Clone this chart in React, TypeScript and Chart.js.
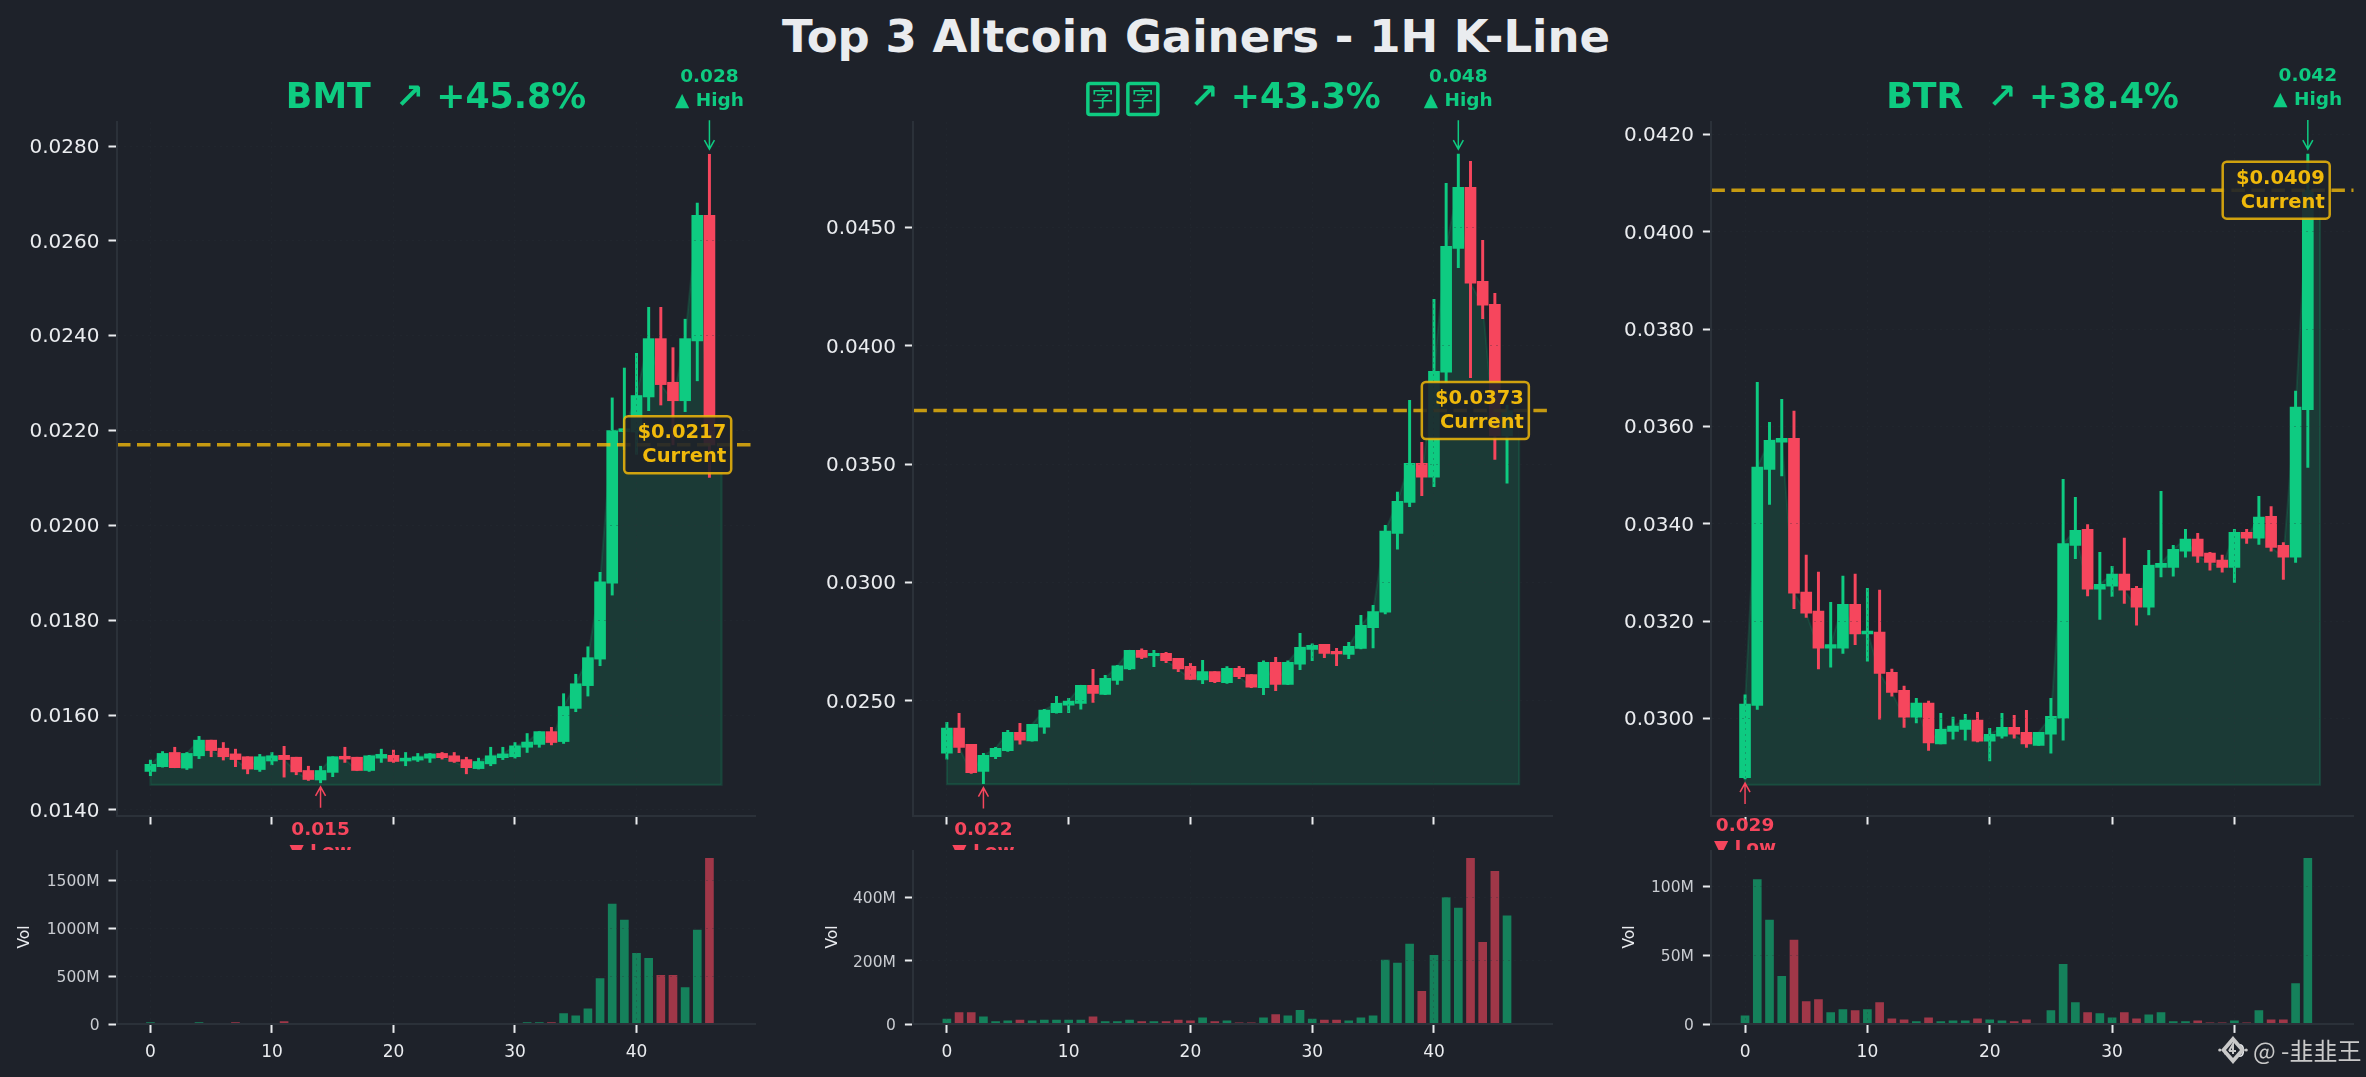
import React, { useEffect, useRef } from "react";
import { Chart, registerables } from "chart.js";

Chart.register(...registerables);

const xTicks = [0, 10, 20, 30, 40];

const bmtOpen = [.01481,.01491,.01521,.01488,.01514,.01547,.01530,.01518,.01512,.01485,.01503,.01515,.01511,.01483,.01463,.01479,.01513,.01511,.01483,.01509,.01515,.01503,.01505,.01509,.01519,.01514,.01506,.01487,.01497,.01510,.01512,.01532,.01538,.01565,.01544,.01614,.01662,.01718,.01878,.02198,.02197,.02271,.02394,.02302,.02263,.02389,.02654];
const bmtClose = [.01496,.01519,.01489,.01519,.01547,.01525,.01512,.01506,.01486,.01512,.01514,.01506,.01480,.01464,.01483,.01512,.01507,.01483,.01514,.01517,.01502,.01509,.01512,.01518,.01510,.01502,.01489,.01502,.01514,.01518,.01535,.01543,.01565,.01542,.01618,.01666,.01721,.01881,.02200,.02204,.02274,.02394,.02297,.02263,.02394,.02654,.02170];
const bmtHigh = [.01505,.01523,.01532,.01521,.01555,.01547,.01542,.01528,.01512,.01517,.01521,.01534,.01511,.01492,.01492,.01512,.01532,.01511,.01515,.01528,.01526,.01521,.01519,.01519,.01521,.01521,.01511,.01509,.01532,.01532,.01542,.01561,.01565,.01574,.01645,.01686,.01744,.01901,.02269,.02332,.02363,.02460,.02460,.02375,.02435,.02680,.02783];
const bmtLow = [.01472,.01490,.01489,.01485,.01508,.01512,.01505,.01491,.01476,.01481,.01495,.01469,.01474,.01462,.01457,.01470,.01500,.01483,.01481,.01500,.01500,.01493,.01502,.01500,.01507,.01500,.01476,.01486,.01493,.01506,.01509,.01521,.01532,.01537,.01540,.01607,.01640,.01704,.01853,.02160,.02150,.02242,.02254,.02170,.02240,.02305,.02101];
const bmtVol = [18,5,6,5,18,4,5,18,4,3,5,29,4,3,5,6,4,3,4,3,3,2,3,2,3,2,3,2,4,3,6,18,18,18,112,90,162,479,1256,1087,742,688,511,511,385,983,1732];
const bmtPriceTicks = [.014,.016,.018,.02,.022,.024,.026,.028];
const bmtVolTicks = [0,500,1000,1500];

const tokOpen = [.02279,.02385,.02317,.02202,.02265,.02290,.02368,.02331,.02389,.02451,.02482,.02490,.02566,.02528,.02587,.02635,.02714,.02691,.02701,.02680,.02646,.02589,.02624,.02577,.02638,.02611,.02556,.02663,.02570,.02655,.02718,.02739,.02708,.02697,.02722,.02810,.02875,.03208,.03339,.03504,.03445,.03889,.04412,.04670,.04273,.04176,.03620];
const tokClose = [.02385,.02304,.02197,.02270,.02300,.02368,.02334,.02401,.02462,.02490,.02499,.02566,.02532,.02596,.02648,.02714,.02684,.02701,.02670,.02635,.02591,.02624,.02582,.02638,.02603,.02558,.02663,.02570,.02663,.02727,.02735,.02701,.02699,.02731,.02820,.02878,.03218,.03343,.03504,.03445,.03893,.04421,.04670,.04265,.04172,.03620,.03727];
const tokHigh = [.02410,.02448,.02317,.02279,.02304,.02376,.02406,.02401,.02465,.02520,.02511,.02566,.02634,.02608,.02651,.02714,.02720,.02714,.02705,.02680,.02659,.02672,.02624,.02645,.02646,.02611,.02670,.02684,.02670,.02786,.02741,.02739,.02722,.02748,.02862,.02904,.03242,.03382,.03770,.03593,.04197,.04687,.04810,.04780,.04446,.04222,.03750];
const tokLow = [.02254,.02282,.02194,.02151,.02256,.02287,.02317,.02330,.02363,.02448,.02451,.02465,.02494,.02527,.02570,.02632,.02679,.02645,.02662,.02624,.02590,.02573,.02577,.02574,.02594,.02556,.02527,.02544,.02569,.02632,.02670,.02683,.02649,.02679,.02720,.02724,.02868,.03141,.03321,.03367,.03405,.03842,.04331,.03866,.04115,.03521,.03420];
const tokVol = [17,37,37,24,9,11,14,11,14,14,14,14,24,9,9,14,9,9,9,14,11,21,9,11,5,5,21,31,27,44,17,14,14,11,21,27,203,193,253,104,218,400,367,524,259,483,342];
const tokPriceTicks = [.025,.03,.035,.04,.045];
const tokVolTicks = [0,200,400];

const btrOpen = [.02879,.03027,.03512,.03568,.03576,.03260,.03221,.03145,.03145,.03235,.03174,.03178,.03095,.03058,.03003,.03032,.02948,.02974,.02978,.02997,.02954,.02964,.02982,.02972,.02945,.02968,.03001,.03356,.03389,.03266,.03272,.03297,.03268,.03229,.03311,.03311,.03344,.03369,.03340,.03326,.03311,.03383,.03371,.03416,.03356,.03332,.03635];
const btrClose = [.03030,.03517,.03572,.03576,.03258,.03217,.03145,.03152,.03235,.03174,.03180,.03093,.03054,.03003,.03032,.02950,.02978,.02985,.02997,.02954,.02968,.02982,.02968,.02948,.02972,.03005,.03360,.03387,.03266,.03276,.03297,.03264,.03229,.03315,.03319,.03348,.03369,.03334,.03321,.03311,.03383,.03371,.03414,.03352,.03332,.03640,.04086];
const btrHigh = [.03049,.03691,.03609,.03656,.03632,.03336,.03301,.03239,.03293,.03297,.03268,.03264,.03102,.03067,.03042,.03036,.03011,.03003,.03009,.03013,.02980,.03011,.03007,.03017,.02972,.03042,.03492,.03455,.03399,.03342,.03313,.03371,.03272,.03346,.03467,.03356,.03389,.03381,.03342,.03336,.03389,.03389,.03457,.03436,.03362,.03673,.04160];
const btrLow = [.02876,.03019,.03440,.03499,.03226,.03208,.03102,.03106,.03134,.03152,.03118,.02999,.03046,.02982,.02991,.02935,.02948,.02958,.02956,.02952,.02913,.02960,.02960,.02941,.02945,.02929,.02956,.03329,.03252,.03204,.03251,.03237,.03192,.03213,.03291,.03293,.03332,.03321,.03305,.03301,.03280,.03360,.03358,.03344,.03286,.03321,.03516];
const btrVol = [6.3,105,75.7,34.8,61.2,16.5,18,8.5,10.8,10,10.8,15.8,4,3.3,2,4.8,2,2.5,2.5,4,3.3,2.5,2,3.3,.3,10,43.6,15.8,8.5,7.8,4.8,8.5,4,7,8.5,2,2,2.5,1.2,1.2,2.5,1.2,10,3.3,3.3,29.6,120.5];
const btrPriceTicks = [.03,.032,.034,.036,.038,.04,.042];
const btrVolTicks = [0,50,100];

const GREEN = "#0ecb81";
const RED = "#f6465d";
const GOLD = "#f0b90b";
const BG = "#1e222a";
const SPINE = "#2b3139";
const TEXT = "#eaecef";
const FONT = '"DejaVu Sans"';
const X_MIN = -2.75;
const X_MAX = 49.75;
const MAIN_TOP = 60;
const MAIN_BOTTOM = 850;
const AXIS_TOP = 122;
const AXIS_BOTTOM = 816;
const VOL_BOTTOM = 1024.4;
const CANVAS_BOTTOM = 1077;

const panels = [
  { name: "BMT", boxed: false, pct: "+45.8%", current: 0.0217, base: 0.01453, open: bmtOpen, close: bmtClose, high: bmtHigh, low: bmtLow, vol: bmtVol, priceTicks: bmtPriceTicks, volTicks: bmtVolTicks, yMin: 0.01387, yMax: 0.02851, volMax: 1819, canvasLeft: 0, canvasWidth: 790, axisLeft: 117, axisRight: 755, volLabelX: 25 },
  { name: "字字", boxed: true, pct: "+43.3%", current: 0.03727, base: 0.02148, open: tokOpen, close: tokClose, high: tokHigh, low: tokLow, vol: tokVol, priceTicks: tokPriceTicks, volTicks: tokVolTicks, yMin: 0.02014, yMax: 0.04946, volMax: 550, canvasLeft: 790, canvasWidth: 800, axisLeft: 913.4, axisRight: 1552.7, volLabelX: 833 },
  { name: "BTR", boxed: false, pct: "+38.4%", current: 0.04086, base: 0.02864, open: btrOpen, close: btrClose, high: btrHigh, low: btrLow, vol: btrVol, priceTicks: btrPriceTicks, volTicks: btrVolTicks, yMin: 0.028, yMax: 0.04226, volMax: 126.5, canvasLeft: 1590, canvasWidth: 776, axisLeft: 1711.4, axisRight: 2353.7, volLabelX: 1630 },
];

type Panel = (typeof panels)[number];

function arrow(ctx: CanvasRenderingContext2D, x: number, tail: number, tip: number, color: string) {
  const dir = tip > tail ? 1 : -1;
  ctx.strokeStyle = color;
  ctx.lineWidth = 1.5;
  ctx.beginPath();
  ctx.moveTo(x, tail);
  ctx.lineTo(x, tip);
  ctx.moveTo(x - 5, tip - dir * 9);
  ctx.lineTo(x, tip);
  ctx.lineTo(x + 5, tip - dir * 9);
  ctx.stroke();
}

function overlayPlugin(p: Panel) {
  return {
    id: "overlay",
    afterDraw(chart: any) {
      const { ctx, chartArea, scales } = chart;
      const x = scales.x;
      const y = scales.y;
      ctx.save();
      const cx = (chartArea.left + chartArea.right) / 2;
      const baseline = chartArea.top - 13.6;
      const suffix = `  ↗ ${p.pct}`;
      ctx.textBaseline = "alphabetic";
      ctx.fillStyle = GREEN;
      ctx.font = `bold 34.8px ${FONT}`;
      if (p.boxed) {
        const restW = ctx.measureText(suffix).width;
        const boxAdvance = 40;
        const chars = Array.from(p.name);
        const total = boxAdvance * chars.length + restW;
        let sx = cx - total / 2;
        ctx.textAlign = "left";
        ctx.fillText(suffix, sx + boxAdvance * chars.length, baseline);
        chars.forEach((ch, i) => {
          const bx = sx + i * boxAdvance + 1;
          ctx.strokeStyle = GREEN;
          ctx.lineWidth = 3.5;
          ctx.beginPath();
          ctx.roundRect(bx + 1.5, baseline - 25, 30, 31, 2);
          ctx.stroke();
          ctx.font = `22px "Noto Sans CJK SC"`;
          ctx.textAlign = "center";
          ctx.fillText(ch, bx + 16.5, baseline - 2);
          ctx.textAlign = "left";
          ctx.font = `bold 34.8px ${FONT}`;
        });
      } else {
        ctx.textAlign = "center";
        ctx.fillText(p.name + suffix, cx, baseline);
      }

      const hi = Math.max(...p.high);
      const hiIdx = p.high.indexOf(hi);
      const hx = x.getPixelForValue(hiIdx);
      const hy = y.getPixelForValue(hi);
      arrow(ctx, hx, hy - 34, hy - 5, GREEN);
      ctx.fillStyle = GREEN;
      ctx.textAlign = "center";
      ctx.textBaseline = "middle";
      ctx.font = `bold 18.5px ${FONT}`;
      ctx.fillText(hi.toFixed(3), hx, hy - 77.5);
      ctx.fillText("▲ High", hx, hy - 53.5);

      const lo = Math.min(...p.low);
      const loIdx = p.low.indexOf(lo);
      const lx = x.getPixelForValue(loIdx);
      const ly = y.getPixelForValue(lo);
      arrow(ctx, lx, ly + 25, ly + 4, RED);
      ctx.fillStyle = RED;
      ctx.fillText(lo.toFixed(3), lx, ly + 47);
      ctx.fillText("▼ Low", lx, ly + 69);

      const boxRight = x.getPixelForValue(47.38);
      const cy = y.getPixelForValue(p.current);
      ctx.beginPath();
      ctx.roundRect(boxRight - 102, cy - 28.5, 107, 57, 4);
      ctx.fillStyle = "rgba(30,34,42,0.9)";
      ctx.fill();
      ctx.strokeStyle = "rgba(240,185,11,0.85)";
      ctx.lineWidth = 2.5;
      ctx.stroke();
      ctx.fillStyle = GOLD;
      ctx.textAlign = "right";
      ctx.font = `bold 19.5px ${FONT}`;
      ctx.fillText(`$${p.current.toFixed(4)}`, boxRight, cy - 11.5);
      ctx.fillText("Current", boxRight, cy + 12.5);
      ctx.restore();
    },
  };
}

function volLabelPlugin(p: Panel) {
  return {
    id: "volLabel",
    afterDraw(chart: any) {
      const { ctx } = chart;
      ctx.save();
      ctx.translate(p.volLabelX - p.canvasLeft, 87);
      ctx.rotate(-Math.PI / 2);
      ctx.fillStyle = TEXT;
      ctx.font = `15.5px ${FONT}`;
      ctx.textAlign = "center";
      ctx.textBaseline = "middle";
      ctx.fillText("Vol", 0, 0);
      ctx.restore();
    },
  };
}

function clearScalePadding(s: any) {
  s.paddingTop = 0;
  s.paddingBottom = 0;
  s.paddingLeft = 0;
  s.paddingRight = 0;
}

function xScale(axisHeight: number, showLabels: boolean) {
  return {
    type: "linear",
    min: X_MIN,
    max: X_MAX,
    offset: false,
    afterBuildTicks: (s: any) => { s.ticks = xTicks.map((value) => ({ value })); },
    afterFit: (s: any) => { s.height = axisHeight; clearScalePadding(s); },
    grid: { offset: false, color: "rgba(43,49,57,0.3)", z: 1, tickColor: TEXT, tickWidth: 2, tickLength: 8.5, lineWidth: 1 },
    border: { color: SPINE, width: 2, dash: [2, 4], z: 2 },
    ticks: { display: showLabels, color: TEXT, font: { family: FONT, size: 17 }, padding: 9, maxRotation: 0, autoSkip: false, callback: (v: number) => `${v}` },
  };
}

function yScale(width: number, min: number, max: number, values: number[], size: number, color: string, cb: (v: number) => string) {
  return {
    type: "linear",
    min,
    max,
    afterBuildTicks: (s: any) => { s.ticks = values.map((value) => ({ value })); },
    afterFit: (s: any) => { s.width = width; clearScalePadding(s); },
    grid: { color: "rgba(43,49,57,0.3)", z: 1, tickColor: TEXT, tickWidth: 2, tickLength: 8.5, lineWidth: 1 },
    border: { color: SPINE, width: 2, dash: [2, 4], z: 2 },
    ticks: { color, font: { family: FONT, size }, padding: 9, labelOffset: 1.5, autoSkip: false, callback: cb },
  };
}

function mainConfig(p: Panel) {
  const colors = p.open.map((o, i) => (p.close[i] >= o ? GREEN : RED));
  const closeLine = [...p.close, p.current].map((y, x) => ({ x, y }));
  const lastX = p.close.length;
  return {
    type: "bar",
    data: {
      datasets: [
        { type: "line", order: 1, data: [{ x: X_MIN, y: p.current }, { x: X_MAX, y: p.current }], borderColor: "rgba(240,185,11,0.8)", borderWidth: 3.5, borderDash: [13.5, 6.5], pointRadius: 0, fill: false },
        { type: "bar", order: 2, grouped: false, barThickness: 11, minBarLength: 2.5, data: p.open.map((o, i) => ({ x: i, y: [o, p.close[i]] })), backgroundColor: colors, borderWidth: 0 },
        { type: "bar", order: 3, grouped: false, barThickness: 2.3, data: p.low.map((l, i) => ({ x: i, y: [l, p.high[i]] })), backgroundColor: colors, borderWidth: 0 },
        { type: "line", order: 4, data: closeLine, borderColor: "rgba(14,203,129,0.15)", borderWidth: 2, pointRadius: 0, tension: 0, fill: { value: p.base }, backgroundColor: "rgba(14,203,129,0.14)" },
        { type: "line", order: 5, data: [{ x: 0, y: p.close[0] }, { x: 0, y: p.base }, { x: lastX, y: p.base }, { x: lastX, y: p.current }], borderColor: "rgba(14,203,129,0.18)", borderWidth: 2, pointRadius: 0, tension: 0, fill: false },
      ],
    },
    options: {
      responsive: false,
      animation: false,
      devicePixelRatio: 1,
      layout: { autoPadding: false, padding: { top: AXIS_TOP - MAIN_TOP, right: p.canvasLeft + p.canvasWidth - p.axisRight, left: 0, bottom: 0 } },
      plugins: { legend: { display: false }, tooltip: { enabled: false } },
      scales: {
        x: xScale(MAIN_BOTTOM - AXIS_BOTTOM, false),
        y: yScale(p.axisLeft - p.canvasLeft, p.yMin, p.yMax, p.priceTicks, 20, TEXT, (v: number) => v.toFixed(4)),
      },
    },
    plugins: [overlayPlugin(p)],
  };
}

function volConfig(p: Panel) {
  const colors = p.open.map((o, i) => (p.close[i] >= o ? "rgba(14,203,129,0.57)" : "rgba(246,70,93,0.6)"));
  return {
    type: "bar",
    data: {
      datasets: [
        { data: p.vol.map((y, x) => ({ x, y })), backgroundColor: colors, borderWidth: 0, barThickness: 8, grouped: false },
      ],
    },
    options: {
      responsive: false,
      animation: false,
      devicePixelRatio: 1,
      layout: { autoPadding: false, padding: { top: 0, right: p.canvasLeft + p.canvasWidth - p.axisRight, left: 0, bottom: 0 } },
      plugins: { legend: { display: false }, tooltip: { enabled: false } },
      scales: {
        x: xScale(CANVAS_BOTTOM - VOL_BOTTOM, true),
        y: yScale(p.axisLeft - p.canvasLeft, 0, p.volMax, p.volTicks, 15.5, "#c9ccd1", (v: number) => (v === 0 ? "0" : `${v}M`)),
      },
    },
    plugins: [volLabelPlugin(p)],
  };
}

function PanelCharts({ panel }: { panel: Panel }) {
  const mainRef = useRef<HTMLCanvasElement>(null);
  const volRef = useRef<HTMLCanvasElement>(null);
  useEffect(() => {
    const a = new Chart(mainRef.current as any, mainConfig(panel) as any);
    const b = new Chart(volRef.current as any, volConfig(panel) as any);
    return () => { a.destroy(); b.destroy(); };
  }, [panel]);
  const common = { position: "absolute" as const, left: panel.canvasLeft };
  return (
    <>
      <canvas ref={mainRef} width={panel.canvasWidth} height={MAIN_BOTTOM - MAIN_TOP} style={{ ...common, top: MAIN_TOP, width: panel.canvasWidth, height: MAIN_BOTTOM - MAIN_TOP }} />
      <canvas ref={volRef} width={panel.canvasWidth} height={CANVAS_BOTTOM - MAIN_BOTTOM} style={{ ...common, top: MAIN_BOTTOM, width: panel.canvasWidth, height: CANVAS_BOTTOM - MAIN_BOTTOM }} />
    </>
  );
}

export default function App() {
  return (
    <div style={{ position: "fixed", left: 0, top: 0, width: 2366, height: 1077, background: BG, overflow: "hidden" }}>
      <div style={{ position: "absolute", left: 0, top: 7, width: 2392, textAlign: "center", color: TEXT, font: `bold 45px/60px ${FONT}`, whiteSpace: "pre" }}>
        Top 3 Altcoin Gainers - 1H K-Line
      </div>
      {panels.map((p) => <PanelCharts key={p.name} panel={p} />)}
      <svg width="30" height="30" viewBox="0 0 30 30" style={{ position: "absolute", left: 2218, top: 1035 }}>
        <path d="M15 1 L27 15 L15 29 L3 15 Z" fill="#c9c9c9" />
        <path d="M15 7 L22 15 L15 23 L8 15 Z" fill="#1e222a" />
        <path d="M11 16 L15 9 L15 19 M11 16 H18" stroke="#c9c9c9" strokeWidth="2" fill="none" />
        <circle cx="1.8" cy="15" r="1.6" fill="#c9c9c9" />
        <circle cx="28.2" cy="15" r="1.6" fill="#c9c9c9" />
      </svg>
      <div style={{ position: "absolute", left: 2253, top: 1034, height: 32, color: "#c9c9c9", font: `24px/32px "Noto Sans CJK SC"`, whiteSpace: "pre" }}>
        @ -韭韭王
      </div>
    </div>
  );
}
